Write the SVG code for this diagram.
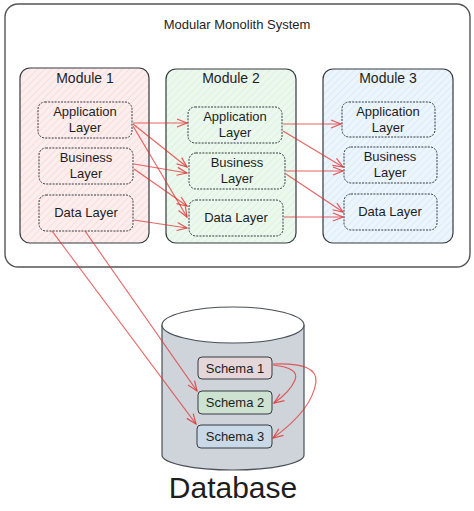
<svg xmlns="http://www.w3.org/2000/svg" width="474" height="511" viewBox="0 0 474 511">
<style>
text{font-family:"Liberation Sans","DejaVu Sans",sans-serif;fill:#1e1e1e;text-anchor:middle}
.lbl{font-size:13px}
.mod{stroke:#343a40;stroke-width:1.2}
.layer{fill:none;stroke:#343a40;stroke-width:1;stroke-dasharray:2 1.2}
.conn path{fill:none;stroke:#e03131;stroke-opacity:0.75;stroke-width:1.2;marker-end:url(#ah)}
.schema{stroke:#343a40;stroke-width:1}
</style>
<defs>
<marker id="ah" markerUnits="userSpaceOnUse" viewBox="-11 -6 13 12" markerWidth="13" markerHeight="12" refX="0" refY="0" orient="auto">
<path d="M-10,-4 L0,0 L-10,4" fill="none" stroke="#e03131" stroke-opacity="0.8" stroke-width="1.2"/>
</marker>
<pattern id="hr" patternUnits="userSpaceOnUse" width="5" height="5" patternTransform="rotate(-45)">
<rect width="5" height="5" fill="#fdeeee"/><line x1="0" y1="0" x2="5" y2="0" stroke="#f4cccc" stroke-width="1"/>
</pattern>
<pattern id="hg" patternUnits="userSpaceOnUse" width="5" height="5" patternTransform="rotate(-45)">
<rect width="5" height="5" fill="#ecf8ee"/><line x1="0" y1="0" x2="5" y2="0" stroke="#cdeed3" stroke-width="1"/>
</pattern>
<pattern id="hb" patternUnits="userSpaceOnUse" width="5" height="5" patternTransform="rotate(-45)">
<rect width="5" height="5" fill="#ecf4fc"/><line x1="0" y1="0" x2="5" y2="0" stroke="#cce3f6" stroke-width="1"/>
</pattern>
</defs>
<rect width="474" height="511" fill="#ffffff"/>

<g id="system">
<rect x="5" y="4" width="465" height="263" rx="13" fill="#ffffff" stroke="#555" stroke-width="1.4"/>
<text class="lbl" x="237" y="29">Modular Monolith System</text>
</g>

<g id="module1">
<rect class="mod" x="20" y="68" width="129" height="175" rx="10" fill="url(#hr)"/>
<text class="lbl" x="85" y="83" style="font-size:14px">Module 1</text>
</g>
<g id="module2">
<rect class="mod" x="166" y="69" width="130" height="174" rx="10" fill="url(#hg)"/>
<text class="lbl" x="231" y="83" style="font-size:14px">Module 2</text>
</g>
<g id="module3">
<rect class="mod" x="323" y="69" width="130" height="174" rx="10" fill="url(#hb)"/>
<text class="lbl" x="388" y="83" style="font-size:14px">Module 3</text>
</g>

<g id="m1-app"><rect class="layer" x="38" y="102" width="94" height="36" rx="7"/><text class="lbl" x="85" y="116">Application</text><text class="lbl" x="85" y="132">Layer</text></g>
<g id="m1-bus"><rect class="layer" x="39" y="148" width="94" height="36" rx="7"/><text class="lbl" x="86" y="162">Business</text><text class="lbl" x="86" y="178">Layer</text></g>
<g id="m1-data"><rect class="layer" x="39" y="195" width="94" height="36" rx="7"/><text class="lbl" x="86" y="217">Data Layer</text></g>

<g id="m2-app"><rect class="layer" x="188" y="107" width="94" height="36" rx="7"/><text class="lbl" x="235" y="121">Application</text><text class="lbl" x="235" y="137">Layer</text></g>
<g id="m2-bus"><rect class="layer" x="189" y="153" width="96" height="36" rx="7"/><text class="lbl" x="237" y="167">Business</text><text class="lbl" x="237" y="183">Layer</text></g>
<g id="m2-data"><rect class="layer" x="189" y="200" width="94" height="36" rx="7"/><text class="lbl" x="236" y="222">Data Layer</text></g>

<g id="m3-app"><rect class="layer" x="342" y="102" width="93" height="35" rx="7"/><text class="lbl" x="388" y="116">Application</text><text class="lbl" x="388" y="132">Layer</text></g>
<g id="m3-bus"><rect class="layer" x="344" y="147" width="93" height="36" rx="7"/><text class="lbl" x="390" y="161">Business</text><text class="lbl" x="390" y="177">Layer</text></g>
<g id="m3-data"><rect class="layer" x="344" y="194" width="93" height="36" rx="7"/><text class="lbl" x="390" y="216">Data Layer</text></g>

<g id="database">
<path d="M162,325 L162,455 A71,15 0 0 0 304,455 L304,325" fill="#ced4da" stroke="#495057" stroke-width="1.2"/>
<ellipse cx="233" cy="325" rx="71" ry="18" fill="#ffffff" stroke="#495057" stroke-width="1.2"/>
<text x="233" y="498" style="font-size:30px">Database</text>
</g>
<g id="schema1"><rect class="schema" x="198" y="357" width="74" height="22" rx="4" fill="#e5d6d9"/><text class="lbl" x="235" y="373">Schema 1</text></g>
<g id="schema2"><rect class="schema" x="198" y="391" width="74" height="23" rx="4" fill="#cde2d1"/><text class="lbl" x="235" y="407">Schema 2</text></g>
<g id="schema3"><rect class="schema" x="197" y="425" width="75" height="23" rx="4" fill="#c9d9e7"/><text class="lbl" x="235" y="441">Schema 3</text></g>

<g id="connectors" class="conn">
<path d="M133,123 L187,123"/>
<path d="M133,124 L187,167"/>
<path d="M133,126 L187,217"/>
<path d="M134,164 L187,173"/>
<path d="M134,169 L187,206"/>
<path d="M134,220 L187,228"/>
<path d="M283,124 L341,124"/>
<path d="M283,131 L343,167"/>
<path d="M286,171 L343,171"/>
<path d="M286,174 L343,212"/>
<path d="M284,217 L343,217"/>
<path d="M85,231 L197,391"/>
<path d="M52,231 L196,424"/>
<path d="M273,365 Q300,368 295,380 Q290,392 274,403"/>
<path d="M273,364 Q318,362 316,382 Q312,410 273,438"/>
</g>
</svg>
